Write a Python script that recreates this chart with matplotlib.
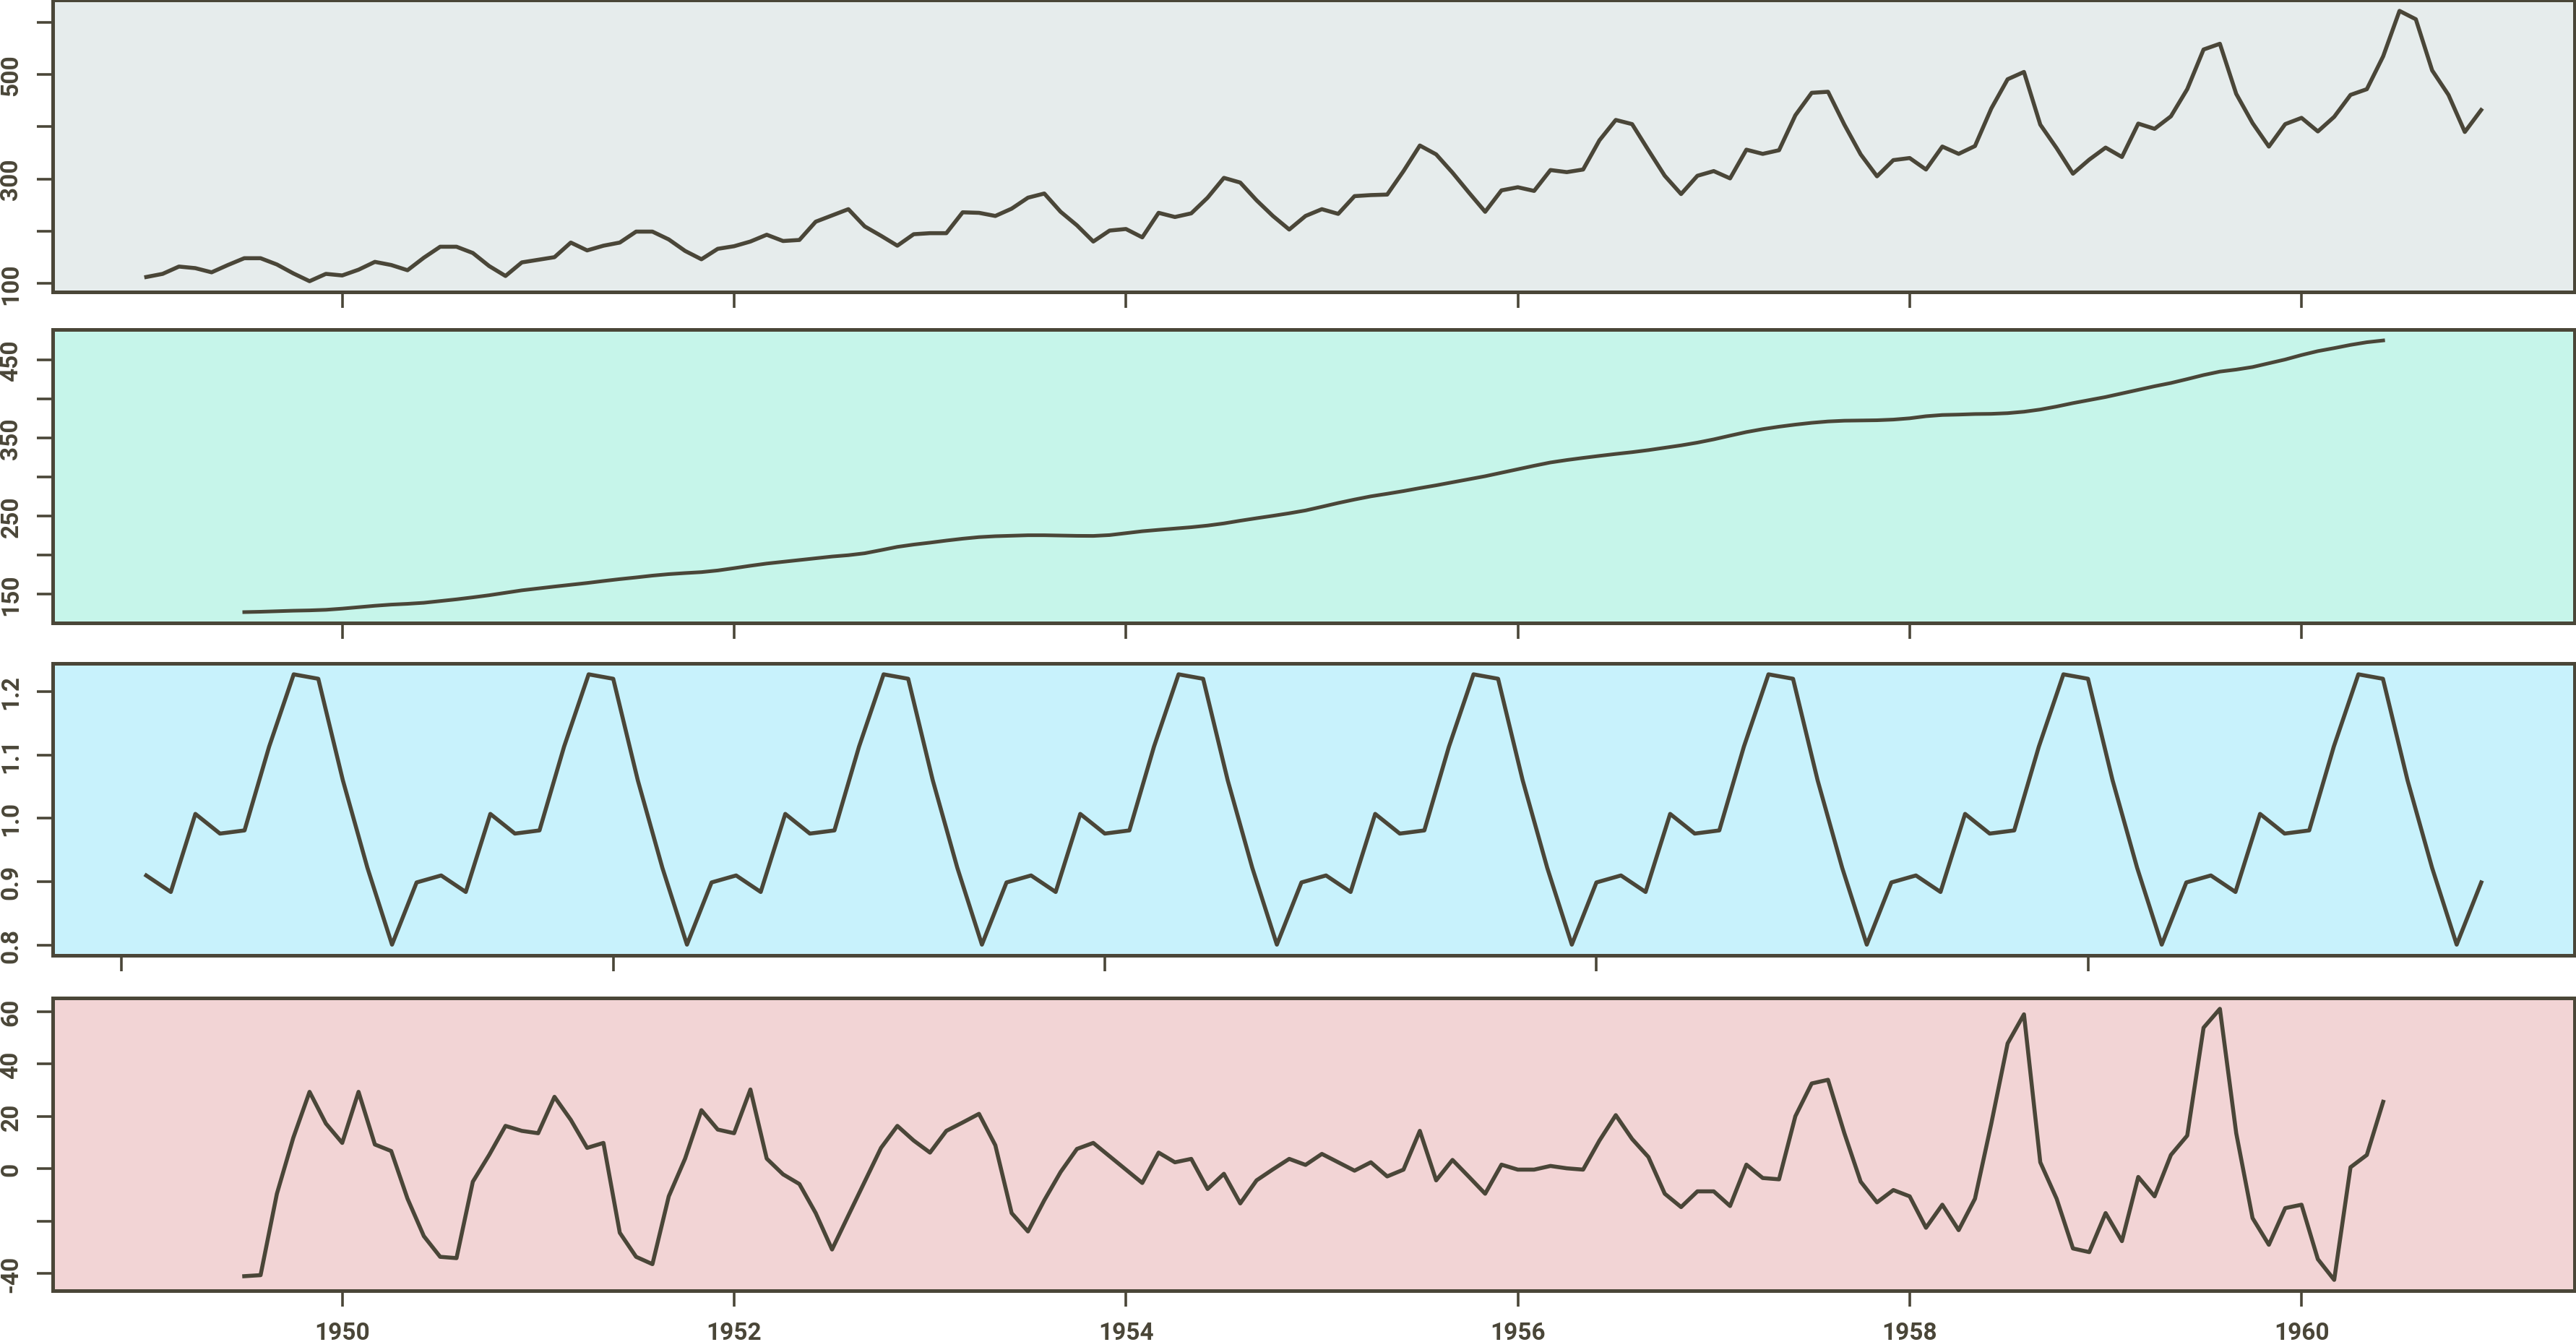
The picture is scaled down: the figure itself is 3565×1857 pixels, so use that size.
import numpy as np
import matplotlib
matplotlib.use('Agg')
import matplotlib.pyplot as plt
from matplotlib import font_manager

# Monthly airline passengers, Jan 1949 - Dec 1960
passengers = [
    112, 118, 132, 129, 121, 135, 148, 148, 136, 119, 104, 118,
    115, 126, 141, 135, 125, 149, 170, 170, 158, 133, 114, 140,
    145, 150, 178, 163, 172, 178, 199, 199, 184, 162, 146, 166,
    171, 180, 193, 181, 183, 218, 230, 242, 209, 191, 172, 194,
    196, 196, 236, 235, 229, 243, 264, 272, 237, 211, 180, 201,
    204, 188, 235, 227, 234, 264, 302, 293, 259, 229, 203, 229,
    242, 233, 267, 269, 270, 315, 364, 347, 312, 274, 237, 278,
    284, 277, 317, 313, 318, 374, 413, 405, 355, 306, 271, 306,
    315, 301, 356, 348, 355, 422, 465, 467, 404, 347, 305, 336,
    340, 318, 362, 348, 363, 435, 491, 505, 404, 359, 310, 337,
    360, 342, 406, 396, 420, 472, 548, 559, 463, 407, 362, 405,
    417, 391, 419, 461, 472, 535, 622, 606, 508, 461, 390, 432,
]

# Trend, Jul 1949 - Jun 1960
trend = [
    126.79, 127.25, 127.96, 128.58, 129.00, 129.75, 131.25, 133.08, 134.92, 136.42, 137.42, 138.75,
    140.92, 143.17, 145.71, 148.42, 151.54, 154.71, 157.12, 159.54, 161.83, 164.12, 166.67, 169.08,
    171.25, 173.58, 175.46, 176.83, 178.04, 180.17, 183.12, 186.21, 189.04, 191.29, 193.58, 195.83,
    198.04, 199.75, 202.21, 206.25, 210.42, 213.38, 215.83, 218.50, 220.92, 222.92, 224.08, 224.71,
    225.33, 225.33, 224.96, 224.58, 224.46, 225.54, 228.00, 230.46, 232.25, 233.92, 235.62, 237.75,
    240.50, 243.96, 247.17, 250.25, 253.50, 257.12, 261.83, 266.67, 271.12, 275.21, 278.50, 281.96,
    285.75, 289.33, 293.25, 297.17, 301.00, 305.46, 309.96, 314.42, 318.62, 321.75, 324.50, 327.08,
    329.54, 331.83, 334.46, 337.54, 340.54, 344.08, 348.25, 353.00, 357.62, 361.38, 364.50, 367.17,
    369.46, 371.21, 372.17, 372.42, 372.75, 373.62, 375.25, 377.92, 379.50, 380.00, 380.71, 380.96,
    381.83, 383.67, 386.50, 390.33, 394.71, 398.62, 402.54, 407.17, 411.88, 416.33, 420.50, 425.50,
    430.71, 435.12, 437.71, 440.96, 445.83, 450.62, 456.33, 461.38, 465.21, 469.33, 472.75, 475.04,
]

# Seasonal factors, 96 points (index 1..96)
seasonal = [
    0.910, 0.884, 1.007, 0.976, 0.981, 1.113, 1.227, 1.220, 1.060, 0.922, 0.801, 0.899,
    0.910, 0.884, 1.007, 0.976, 0.981, 1.113, 1.227, 1.220, 1.060, 0.922, 0.801, 0.899,
    0.910, 0.884, 1.007, 0.976, 0.981, 1.113, 1.227, 1.220, 1.060, 0.922, 0.801, 0.899,
    0.910, 0.884, 1.007, 0.976, 0.981, 1.113, 1.227, 1.220, 1.060, 0.922, 0.801, 0.899,
    0.910, 0.884, 1.007, 0.976, 0.981, 1.113, 1.227, 1.220, 1.060, 0.922, 0.801, 0.899,
    0.910, 0.884, 1.007, 0.976, 0.981, 1.113, 1.227, 1.220, 1.060, 0.922, 0.801, 0.899,
    0.910, 0.884, 1.007, 0.976, 0.981, 1.113, 1.227, 1.220, 1.060, 0.922, 0.801, 0.899,
    0.910, 0.884, 1.007, 0.976, 0.981, 1.113, 1.227, 1.220, 1.060, 0.922, 0.801, 0.899,
]

# Remainder, Jul 1949 - Jun 1960
remainder = [
    -41.0, -40.6, -9.5, 11.8, 29.4, 17.3, 9.9, 29.4, 9.3, 6.8, -11.4, -25.7,
    -33.6, -34.1, -4.9, 5.3, 16.4, 14.5, 13.6, 27.5, 18.7, 8.0, 9.9, -24.4,
    -33.6, -36.4, -10.5, 3.9, 22.4, 15.0, 13.6, 30.3, 3.9, -2.1, -5.8, -16.9,
    -30.8, -17.8, -4.9, 8.0, 16.4, 10.8, 6.2, 14.5, 17.7, 21.0, 9.0, -16.9,
    -23.9, -12.0, -1.2, 7.6, 9.9, 4.8, -0.3, -5.4, 6.2, 2.5, 3.8, -7.7,
    -1.9, -13.2, -4.4, -0.2, 3.8, 1.5, 5.7, 2.5, -0.7, 2.5, -2.9, -0.3,
    14.5, -4.4, 3.4, -3.0, -9.5, 1.6, -0.3, -0.3, 1.1, 0.2, -0.3, 10.8,
    20.5, 11.4, 4.5, -9.5, -14.6, -8.6, -8.6, -14.2, 1.6, -3.5, -4.0, 20.1,
    32.6, 34.0, 13.6, -4.9, -12.8, -8.1, -10.5, -22.5, -13.7, -23.4, -11.4, 17.3,
    47.9, 59.0, 2.5, -11.4, -30.4, -31.8, -16.9, -27.6, -3.1, -10.5, 5.3, 12.7,
    53.9, 61.1, 13.6, -18.8, -29.0, -15.0, -13.7, -34.5, -42.4, 0.6, 5.3, 25.6,
]

year_ticks = [1950, 1952, 1954, 1956, 1958, 1960]
index_ticks = [0, 20, 40, 60, 80]

ink = '#4a4638'
faces = ['#e6ecec', '#c6f5ea', '#c8f2fc', '#f2d4d5']

installed = {f.name for f in font_manager.fontManager.ttflist}
label_font = 'Roboto' if 'Roboto' in installed else 'DejaVu Sans'
plt.rcParams['font.family'] = [label_font, 'DejaVu Sans']

t_obs = 1949 + np.arange(len(passengers)) / 12
t_mid = 1949.5 + np.arange(len(trend)) / 12
idx = np.arange(1, len(seasonal) + 1)
time_lim = (1948.523, 1961.394)

fig = plt.figure(figsize=(17.83, 9.29), dpi=200)

boxes = [
    (0.0205, 0.7820, 0.9787, 0.2174),
    (0.0205, 0.5355, 0.9787, 0.2185),
    (0.0205, 0.2879, 0.9787, 0.2174),
    (0.0205, 0.0382, 0.9787, 0.2180),
]


def style(ax, face, yticks, ylabels, xticks, xlabels):
    ax.set_facecolor(face)
    for s in ax.spines.values():
        s.set_color(ink)
        s.set_linewidth(1.8)
    ax.set_yticks(yticks)
    ax.set_yticklabels(ylabels, rotation=90, va='center')
    ax.set_xticks(xticks)
    ax.set_xticklabels(xlabels)
    ax.tick_params(colors=ink, length=8, width=1.3, labelsize=12, pad=7)
    for lab in ax.get_xticklabels() + ax.get_yticklabels():
        lab.set_fontweight('bold')
    ax.margins(y=0.04)


ax1 = fig.add_axes(boxes[0])
ax1.plot(t_obs, passengers, color=ink, lw=2.0)
ax1.set_xlim(*time_lim)
style(ax1, faces[0], [100, 200, 300, 400, 500, 600],
      ['100', '', '300', '', '500', ''], year_ticks, [''] * 6)

ax2 = fig.add_axes(boxes[1])
ax2.plot(t_mid, trend, color=ink, lw=1.8)
ax2.set_xlim(*time_lim)
style(ax2, faces[1], [150, 200, 250, 300, 350, 400, 450],
      ['150', '', '250', '', '350', '', '450'], year_ticks, [''] * 6)

ax3 = fig.add_axes(boxes[2])
ax3.plot(idx, seasonal, color=ink, lw=2.0)
ax3.set_xlim(-2.8, 99.8)
style(ax3, faces[2], [0.8, 0.9, 1.0, 1.1, 1.2],
      ['0.8', '0.9', '1.0', '1.1', '1.2'], index_ticks, [''] * 5)

ax4 = fig.add_axes(boxes[3])
ax4.plot(t_mid, remainder, color=ink, lw=2.0)
ax4.set_xlim(*time_lim)
style(ax4, faces[3], [-40, -20, 0, 20, 40, 60],
      ['-40', '', '0', '20', '40', '60'], year_ticks, [str(y) for y in year_ticks])

fig.savefig('out.png', dpi=200)
